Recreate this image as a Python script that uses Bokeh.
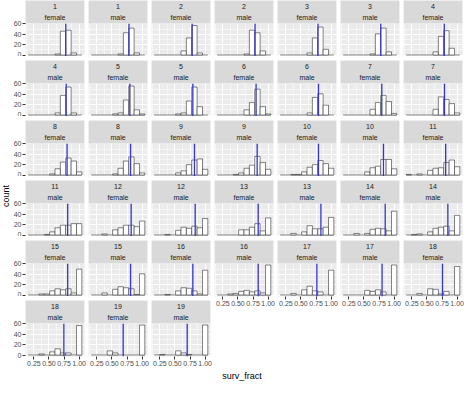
from math import pi
from bokeh.plotting import figure
from bokeh.layouts import row, column
from bokeh.models import Range1d, FixedTicker
from bokeh.core.properties import value
from bokeh.embed import file_html
from bokeh.resources import INLINE

# ---------------- data ----------------
groups = list(range(1, 20))
sexes = ["female", "male"]
bin_edges = [0.156, 0.244, 0.333, 0.422, 0.511, 0.600, 0.689, 0.778, 0.867, 0.956, 1.044]

counts_female = [
    [0, 0, 0, 0, 0, 2, 46, 48, 4, 0],
    [0, 0, 0, 0, 0, 8, 33, 57, 4, 0],
    [0, 0, 0, 0, 0, 4, 33, 54, 11, 0],
    [0, 0, 0, 0, 0, 6, 36, 47, 13, 0],
    [0, 0, 0, 0, 2, 4, 29, 56, 10, 2],
    [0, 0, 0, 0, 0, 10, 24, 50, 16, 2],
    [0, 0, 0, 0, 0, 11, 24, 38, 26, 3],
    [0, 0, 0, 0, 2, 12, 25, 33, 27, 6],
    [0, 0, 0, 0, 4, 8, 20, 29, 31, 11],
    [0, 0, 1, 1, 6, 15, 20, 28, 22, 13],
    [1, 0, 2, 0, 9, 13, 14, 24, 29, 16],
    [0, 0, 2, 0, 10, 14, 19, 19, 16, 27],
    [0, 0, 0, 0, 10, 10, 15, 22, 8, 33],
    [0, 0, 3, 0, 3, 11, 13, 12, 8, 46],
    [0, 0, 2, 2, 8, 12, 10, 12, 4, 50],
    [0, 0, 1, 0, 8, 14, 13, 8, 2, 48],
    [0, 0, 3, 0, 10, 17, 8, 6, 0, 48],
    [0, 0, 3, 0, 12, 11, 2, 7, 0, 55],
    [0, 0, 0, 8, 4, 0, 0, 0, 0, 58],
]
counts_male = [
    [0, 0, 0, 0, 0, 2, 43, 52, 4, 0],
    [0, 0, 0, 0, 0, 2, 48, 43, 8, 0],
    [0, 0, 0, 0, 0, 2, 41, 52, 6, 0],
    [0, 0, 0, 0, 0, 4, 38, 54, 4, 0],
    [0, 0, 0, 0, 2, 4, 27, 54, 16, 0],
    [0, 0, 0, 0, 0, 4, 34, 41, 19, 0],
    [0, 0, 0, 0, 0, 11, 35, 30, 22, 4],
    [0, 0, 0, 0, 2, 13, 27, 35, 22, 4],
    [0, 0, 0, 1, 4, 13, 19, 36, 24, 11],
    [0, 0, 0, 0, 6, 14, 17, 30, 30, 12],
    [0, 0, 0, 1, 6, 14, 19, 19, 22, 22],
    [0, 0, 1, 0, 9, 15, 13, 17, 14, 32],
    [0, 0, 3, 0, 6, 18, 12, 12, 15, 34],
    [0, 1, 2, 0, 6, 13, 15, 17, 8, 38],
    [0, 0, 4, 0, 11, 16, 14, 12, 1, 41],
    [0, 0, 2, 3, 7, 9, 6, 8, 4, 58],
    [0, 0, 0, 0, 9, 7, 10, 6, 0, 58],
    [0, 0, 2, 0, 6, 12, 4, 4, 0, 57],
    [0, 1, 0, 0, 8, 4, 1, 0, 0, 58],
]
vline_female = [0.778, 0.785, 0.782, 0.787, 0.796, 0.800, 0.795, 0.800, 0.823, 0.790,
                0.810, 0.818, 0.835, 0.852, 0.810, 0.796, 0.763, 0.757, 0.686]
vline_male = [0.782, 0.783, 0.778, 0.785, 0.796, 0.790, 0.790, 0.808, 0.818, 0.823,
              0.810, 0.835, 0.830, 0.846, 0.808, 0.835, 0.800, 0.747, 0.703]

x_ticks = [0.25, 0.5, 0.75, 1.0]
x_tick_labels = ["0.25", "0.50", "0.75", "1.00"]
x_minor = [0.125, 0.375, 0.625, 0.875]
y_ticks = [0, 20, 40, 60]
y_minor = [10, 30, 50]
x_title = "surv_fract"
y_title = "count"

# ---------------- styling / layout ----------------
FONT = "Liberation Sans"
STRIP_PX, PANEL_PX, PANEL_W = 23, 33, 59
VGAP = 4
BL, BR = 1, 3          # side borders of each panel figure (pitch = 63)
LEFT_B = 13            # room for y tick labels in first column
YLAB_W = 10
NCOL = 7
PANEL_BG = "#EBEBEB"
STRIP_BG = "#D9D9D9"
BAR_LINE = "#333333"
VLINE_COL = "#3434D8"

ymax = max(max(c) for c in counts_female + counts_male)
ylo, yhi = -0.05 * ymax, 1.05 * ymax
ytop = yhi + (yhi - ylo) * STRIP_PX / PANEL_PX
xspan = bin_edges[-1] - bin_edges[0]
xlo, xhi = bin_edges[0] - 0.05 * xspan, bin_edges[-1] + 0.05 * xspan

panels = []
for g, cf, cm, vf, vm in zip(groups, counts_female, counts_male, vline_female, vline_male):
    panels.append((g, sexes[0], cf, vf))
    panels.append((g, sexes[1], cm, vm))

n = len(panels)
cols = [[] for _ in range(NCOL)]
for i, (g, sex, cnt, vl) in enumerate(panels):
    c = i % NCOL
    is_left = c == 0
    is_bottom = i + NCOL >= n
    p = figure(frame_width=PANEL_W, frame_height=STRIP_PX + PANEL_PX,
               x_range=Range1d(xlo, xhi), y_range=Range1d(ylo, ytop),
               output_backend="svg", toolbar_location=None,
               x_axis_location="below" if is_bottom else None,
               y_axis_location="left" if is_left else None,
               min_border=0)
    p.min_border_left = LEFT_B if is_left else BL
    p.min_border_right = BR
    p.min_border_top = 0
    p.min_border_bottom = 0
    p.outline_line_color = None
    p.background_fill_color = PANEL_BG
    p.border_fill_color = "white"

    p.xgrid.ticker = FixedTicker(ticks=x_ticks, minor_ticks=x_minor)
    p.ygrid.ticker = FixedTicker(ticks=y_ticks, minor_ticks=y_minor)
    for gr in (p.xgrid, p.ygrid):
        gr.grid_line_color = "white"
        gr.grid_line_width = 1
        gr.minor_grid_line_color = "white"
        gr.minor_grid_line_width = 0.5

    # baseline from empty bins, then bars
    p.segment(x0=[bin_edges[0]], x1=[bin_edges[-1]], y0=[0], y1=[0],
              line_color=BAR_LINE, line_width=0.6)
    left = [bin_edges[k] for k in range(len(cnt)) if cnt[k] > 0]
    right = [bin_edges[k + 1] for k in range(len(cnt)) if cnt[k] > 0]
    top = [cnt[k] for k in range(len(cnt)) if cnt[k] > 0]
    p.quad(left=left, right=right, bottom=0, top=top,
           fill_color="white", line_color=BAR_LINE, line_width=0.6)
    p.segment(x0=[vl], x1=[vl], y0=[ylo], y1=[yhi], line_color=VLINE_COL, line_width=1.3)

    # strip
    p.quad(left=[xlo], right=[xhi], bottom=[yhi], top=[ytop],
           fill_color=STRIP_BG, line_color=None)
    sh = ytop - yhi
    p.text(x=[(xlo + xhi) / 2] * 2, y=[ytop - 0.27 * sh, ytop - 0.74 * sh],
           text=[str(g), sex], text_align="center", text_baseline="middle",
           text_font=value(FONT), text_font_size="7px", text_color="#1A1A1A")

    if is_left:
        ax = p.yaxis[0]
        ax.ticker = FixedTicker(ticks=y_ticks)
        ax.axis_line_color = None
        ax.major_tick_line_color = "#333333"
        ax.major_tick_in = 0
        ax.major_tick_out = 3
        ax.minor_tick_line_color = None
        ax.major_label_standoff = 1
        ax.major_label_text_font = FONT
        ax.major_label_text_font_size = "7px"
        ax.major_label_text_color = "#4D4D4D"
    if is_bottom:
        ax = p.xaxis[0]
        ax.ticker = FixedTicker(ticks=x_ticks)
        ax.major_label_overrides = dict(zip(x_ticks, x_tick_labels))
        ax.axis_line_color = None
        ax.major_tick_line_color = "#333333"
        ax.major_tick_in = 0
        ax.major_tick_out = 3
        ax.minor_tick_line_color = None
        ax.major_label_standoff = 1
        ax.major_label_text_font = FONT
        ax.major_label_text_font_size = "7px"
        ax.major_label_text_color = "#4D4D4D"
    cols[c].append(p)

grid = row(*[column(*cl, spacing=VGAP) for cl in cols], spacing=0)

# x-axis title
xlab = figure(frame_width=NCOL * PANEL_W + (NCOL - 1) * (VGAP), frame_height=1,
              x_range=Range1d(0, 1), y_range=Range1d(0, 1),
              output_backend="svg", toolbar_location=None,
              x_axis_location="below", y_axis_location=None, min_border=0)
xlab.min_border_left = LEFT_B
xlab.outline_line_color = None
xlab.grid.visible = False
xa = xlab.xaxis[0]
xa.ticker = FixedTicker(ticks=[])
xa.axis_line_color = None
xa.major_tick_out = 0
xa.major_tick_in = 0
xa.minor_tick_line_color = None
xa.axis_label = x_title
xa.axis_label_standoff = 1
xa.axis_label_text_font = FONT
xa.axis_label_text_font_size = "9px"
xa.axis_label_text_font_style = "normal"
xa.axis_label_text_color = "black"

main = column(grid, xlab, spacing=0)

# y-axis title
col_h = 6 * (STRIP_PX + PANEL_PX) + 5 * VGAP + 13
ylab = figure(frame_width=YLAB_W, frame_height=col_h,
              x_range=Range1d(0, 1), y_range=Range1d(0, 1),
              output_backend="svg", toolbar_location=None,
              x_axis_location=None, y_axis_location=None, min_border=0)
ylab.outline_line_color = None
ylab.grid.visible = False
ylab.text(x=[0.5], y=[0.47], text=[y_title], angle=pi / 2,
          text_align="center", text_baseline="middle",
          text_font=value(FONT), text_font_size="9px", text_color="black")

layout = row(ylab, main, spacing=0)

open("out.html", "w").write(file_html(layout, INLINE))
